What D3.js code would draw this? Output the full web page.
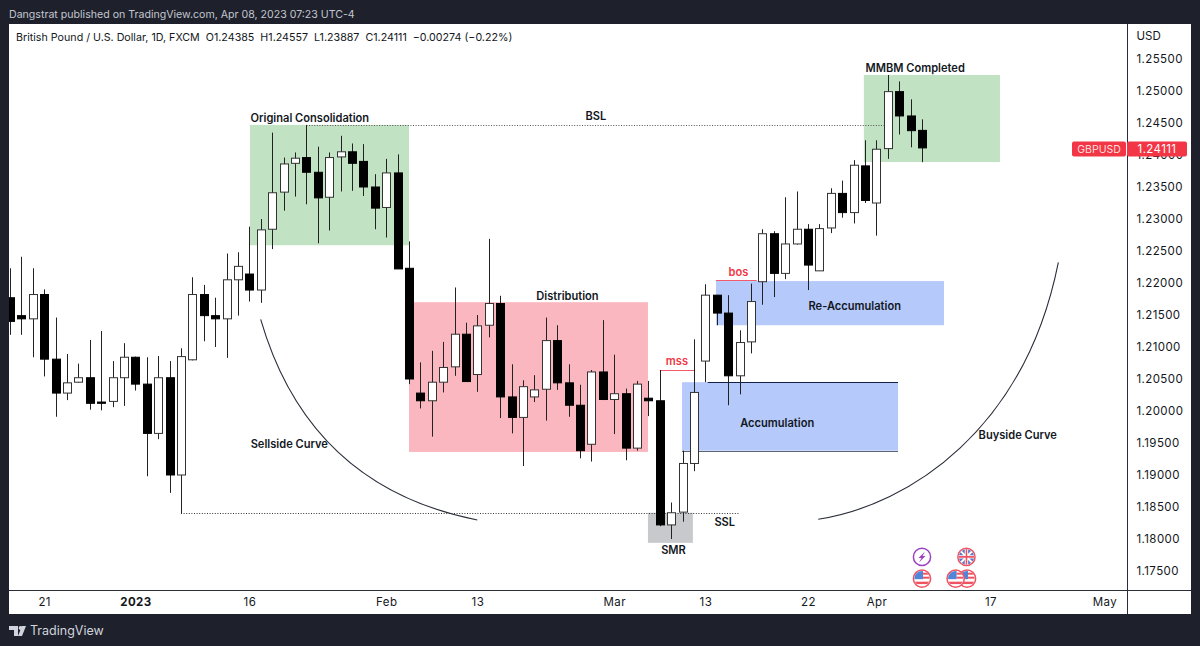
<!DOCTYPE html>
<html>
<head>
<meta charset="utf-8">
<style>
  html, body { margin: 0; padding: 0; background: #1e212c; }
  svg { display: block; }
  text { font-family: Inter, "Noto Sans", sans-serif; white-space: pre; }
</style>
<script src="https://cdn.jsdelivr.net/npm/d3@7"></script>
</head>
<body>
<div id="chart"></div>
<script>
// daily candles, 19 Dec 2022 -> 7 Apr 2023 (weekdays only)
const opens = [1.2177,1.2149,1.2144,1.2182,1.2081,1.2028,1.2045,1.2052,1.2014,1.2015,1.2052,1.2084,1.2042,1.1965,1.2052,1.1900,1.2080,1.2182,1.2149,1.2144,1.2205,1.2214,1.2189,1.2284,1.2342,1.2387,1.2396,1.2373,1.2334,1.2397,1.2405,1.2390,1.2350,1.2318,1.2372,1.2223,1.2028,1.2016,1.2045,1.2069,1.2120,1.2057,1.2134,1.2168,1.2022,1.1990,1.2022,1.2034,1.2110,1.2044,1.2009,1.1948,1.2061,1.2018,1.2027,1.1942,1.2020,1.2016,1.1822,1.1842,1.1918,1.2078,1.2181,1.2153,1.2055,1.2108,1.2202,1.2277,1.2215,1.2261,1.2284,1.2219,1.2286,1.2340,1.2310,1.2383,1.2325,1.2410,1.2499,1.2461,1.24385];
const highs = [1.2223,1.2241,1.2223,1.2190,1.2146,1.2089,1.2074,1.2111,1.2125,1.2078,1.2106,1.2085,1.2084,1.2086,1.2078,1.2098,1.2209,1.2197,1.2177,1.2246,1.2248,1.2288,1.2300,1.2435,1.2396,1.2404,1.2447,1.2413,1.2404,1.2430,1.2418,1.2417,1.2370,1.2394,1.2401,1.2265,1.2076,1.2094,1.2108,1.2193,1.2138,1.2150,1.2269,1.2180,1.2073,1.2048,1.2056,1.2146,1.2134,1.2073,1.2041,1.2064,1.2142,1.2088,1.2035,1.2047,1.2047,1.2064,1.1857,1.1938,1.2112,1.2198,1.2181,1.2181,1.2126,1.2199,1.2284,1.2281,1.2334,1.2343,1.2292,1.2292,1.2348,1.2360,1.2392,1.2423,1.2423,1.2525,1.2515,1.2487,1.24557];
const lows = [1.2119,1.2119,1.2084,1.2054,1.1991,1.2017,1.2044,1.2002,1.2001,1.2006,1.2008,1.2032,1.1898,1.1956,1.1872,1.1840,1.2079,1.2109,1.2100,1.2083,1.2149,1.2171,1.2169,1.2253,1.2313,1.2335,1.2323,1.2262,1.2282,1.2343,1.2344,1.2336,1.2284,1.2271,1.2222,1.2042,1.2004,1.1960,1.2029,1.2055,1.2046,1.2030,1.2115,1.1989,1.1965,1.1914,1.2014,1.1985,1.2033,1.1991,1.1926,1.1921,1.2017,1.1964,1.1923,1.1938,1.1992,1.1820,1.1800,1.1827,1.1906,1.2045,1.2134,1.2009,1.2026,1.2090,1.2166,1.2178,1.2206,1.2260,1.2189,1.2219,1.2278,1.2302,1.2293,1.2325,1.2274,1.2394,1.2432,1.2412,1.23887];
const closes = [1.2140,1.2144,1.2182,1.2081,1.2028,1.2044,1.2052,1.2012,1.2012,1.2052,1.2084,1.2042,1.1965,1.2052,1.1900,1.2085,1.2182,1.2149,1.2144,1.2205,1.2226,1.2189,1.2283,1.2341,1.2386,1.2395,1.2373,1.2333,1.2396,1.2405,1.2387,1.2350,1.2317,1.2372,1.2222,1.2050,1.2016,1.2045,1.2068,1.2120,1.2046,1.2133,1.2168,1.2022,1.1990,1.2038,1.2033,1.2110,1.2044,1.2009,1.1938,1.2061,1.2018,1.2027,1.1942,1.2042,1.2016,1.1822,1.1841,1.1918,1.2029,1.2181,1.2153,1.2055,1.2107,1.2171,1.2277,1.2215,1.2261,1.2284,1.2228,1.2285,1.2340,1.2310,1.2384,1.2329,1.2409,1.2499,1.2461,1.2438,1.24111];

const priceTicks = [1.175,1.18,1.185,1.19,1.195,1.2,1.205,1.21,1.215,1.22,1.225,1.23,1.235,1.24,1.245,1.25,1.255];
const timeTickIdx = [3,11,21,33,41,53,61,70,76,86,96];
const timeTickLabels = ['21','2023','16','Feb','13','Mar','13','22','Apr','17','May'];

// [idx0, idx1, priceTop, priceBottom, colour]
const zones = [
  [21.05, 35, 1.2447, 1.2259, '#c1e2c3'],
  [35, 55.96, 1.2170, 1.1936, '#fbb7bf'],
  [74.9, 86.84, 1.2525, 1.2389, '#c1e2c3'],
  [58.95, 77.9, 1.2045, 1.1938, '#b5c9fb'],
  [61.93, 81.93, 1.2203, 1.2134, '#b5c9fb'],
  [55.96, 59.9, 1.1841, 1.1794, '#c8c9cd']
];

// [idx0, idx1, price, colour, dash]
const levels = [
  [26, 77, 1.2447, '#555', '1 1.6'],
  [15, 63.9, 1.1840, '#333', '1 1.6'],
  [61.2, 77.9, 1.2045, '#14204a', null],
  [58.95, 77.9, 1.1938, '#5a6475', null],
  [57, 60, 1.2064, '#f2596b', null],
  [61.93, 65.5, 1.2205, '#f2596b', null]
];

// bezier anchors: start, control, control, end
const sellCurveIdx = [21.99,24.82,31.14,40.99];
const sellCurvePrice = [1.21433,1.19697,1.18648,1.18297];
const buyCurveIdx = [70.9,78.95,89.04,91.96];
const buyCurvePrice = [1.18308,1.18531,1.19719,1.22323];

// [text, idx, price, colour]
const labels = [
  ['Original Consolidation', 26.3, 1.2458, '#131722'],
  ['BSL', 51.4, 1.2461, '#131722'],
  ['SSL', 62.7, 1.1827, '#131722'],
  ['Distribution', 48.9, 1.2180, '#131722'],
  ['MMBM Completed', 79.4, 1.2536, '#131722'],
  ['mss', 58.5, 1.2078, '#f23645'],
  ['bos', 63.9, 1.2217, '#f23645'],
  ['Re-Accumulation', 74.1, 1.2164, '#131722'],
  ['Accumulation', 67.3, 1.1981, '#131722'],
  ['Sellside Curve', 24.5, 1.1948, '#131722'],
  ['Buyside Curve', 88.4, 1.1963, '#131722'],
  ['SMR', 58.2, 1.1783, '#131722']
];

const eventIdx = [80, 83.9, 80, 83.95, 82.95];
const eventPrice = [1.1772, 1.1772, 1.1738, 1.1738, 1.1738];
const eventKinds = ['bolt', 'uk', 'us', 'us', 'us'];

const lastPrice = closes[closes.length - 1];

const svg = d3.select('#chart').append('svg').attr('width', 1200).attr('height', 646);

const x = d3.scaleLinear().domain([0, 96]).range([10, 1104.4]);
const y = d3.scaleLinear().domain([1.175, 1.255]).range([571, 59]);

// page frame
svg.append('rect').attr('width', 1200).attr('height', 646).attr('fill', '#1e212c');
svg.append('rect').attr('x', 9).attr('y', 24).attr('width', 1182).attr('height', 590).attr('fill', '#fff');

svg.append('text').attr('x', 9).attr('y', 18).attr('fill', '#c3c6ce').attr('font-size', 10.6).attr('font-family', 'Roboto, sans-serif')
  .text('Dangstrat published on TradingView.com, Apr 08, 2023 07:23 UTC-4');

svg.append('clipPath').attr('id', 'plotClip').append('rect')
  .attr('x', 9).attr('y', 24).attr('width', 1118.5).attr('height', 566);

const plot = svg.append('g').attr('clip-path', 'url(#plotClip)');

plot.selectAll('rect.zone').data(zones).join('rect')
  .attr('class', 'zone')
  .attr('x', d => x(d[0]))
  .attr('y', d => y(d[2]))
  .attr('width', d => x(d[1]) - x(d[0]))
  .attr('height', d => y(d[3]) - y(d[2]))
  .attr('fill', d => d[4]);

plot.selectAll('line.level').data(levels).join('line')
  .attr('class', 'level')
  .attr('x1', d => x(d[0])).attr('x2', d => x(d[1]))
  .attr('y1', d => Math.round(y(d[2])) + 0.5).attr('y2', d => Math.round(y(d[2])) + 0.5)
  .attr('stroke', d => d[3])
  .attr('stroke-width', 1)
  .attr('stroke-dasharray', d => d[4]);

[[sellCurveIdx, sellCurvePrice], [buyCurveIdx, buyCurvePrice]].forEach(([xs, ys]) => {
  const p = d3.path();
  p.moveTo(x(xs[0]), y(ys[0]));
  p.bezierCurveTo(x(xs[1]), y(ys[1]), x(xs[2]), y(ys[2]), x(xs[3]), y(ys[3]));
  plot.append('path')
    .attr('d', p.toString())
    .attr('fill', 'none')
    .attr('stroke', '#2a2e39')
    .attr('stroke-width', 1.1);
});

// candles
const candles = plot.selectAll('g.candle').data(opens).join('g').attr('class', 'candle');
candles.append('line')
  .attr('x1', (d, i) => Math.round(x(i)) + 0.5).attr('x2', (d, i) => Math.round(x(i)) + 0.5)
  .attr('y1', (d, i) => y(highs[i])).attr('y2', (d, i) => y(lows[i]))
  .attr('stroke', '#222');
candles.append('rect')
  .attr('x', (d, i) => Math.round(x(i)) - 3.5)
  .attr('width', 8)
  .attr('y', (d, i) => y(Math.max(d, closes[i])))
  .attr('height', (d, i) => Math.max(1, Math.abs(y(d) - y(closes[i]))))
  .attr('fill', (d, i) => closes[i] > d ? '#fff' : '#000')
  .attr('stroke', (d, i) => closes[i] > d ? '#333' : '#000')
  .attr('stroke-width', 1);

plot.selectAll('text.note').data(labels).join('text')
  .attr('class', 'note')
  .attr('x', d => x(d[1]))
  .attr('y', d => y(d[2]))
  .attr('dy', '0.35em')
  .attr('text-anchor', 'middle')
  .attr('font-size', 11.1)
  .attr('font-weight', 600)
  .attr('fill', d => d[3])
  .text(d => d[0]);

// economic event markers
svg.append('clipPath').attr('id', 'iconClip').append('circle').attr('r', 7.6);
const events = plot.selectAll('g.event').data(eventKinds).join('g')
  .attr('class', 'event')
  .attr('transform', (d, i) => `translate(${x(eventIdx[i])},${y(eventPrice[i])})`);
events.append('circle').attr('r', 8.6)
  .attr('fill', '#fff')
  .attr('stroke', d => d === 'bolt' ? '#9c3fc0' : '#ef5361')
  .attr('stroke-width', 1.5);
events.filter(d => d === 'bolt').append('path')
  .attr('d', 'M3,-5.5 L-3.5,1 L-0.5,1 L-3,5.5 L3.5,-1 L0.5,-1 Z')
  .attr('fill', '#9c3fc0');
const usFlag = events.filter(d => d === 'us').append('g').attr('clip-path', 'url(#iconClip)');
usFlag.append('rect').attr('x', -8).attr('y', -8).attr('width', 9).attr('height', 8.5).attr('fill', '#4f86d9');
usFlag.append('rect').attr('x', 1).attr('y', -6).attr('width', 8).attr('height', 2).attr('fill', '#ef5361');
usFlag.append('rect').attr('x', 1).attr('y', -2).attr('width', 8).attr('height', 2).attr('fill', '#ef5361');
usFlag.append('rect').attr('x', -8).attr('y', 3).attr('width', 16).attr('height', 2.4).attr('fill', '#ef5361');
const ukFlag = events.filter(d => d === 'uk').append('g').attr('clip-path', 'url(#iconClip)');
ukFlag.append('rect').attr('x', -8).attr('y', -8).attr('width', 16).attr('height', 16).attr('fill', '#5a78c8');
ukFlag.append('path').attr('d', 'M-8,-8L8,8M8,-8L-8,8').attr('stroke', '#fff').attr('stroke-width', 2);
ukFlag.append('path').attr('d', 'M0,-8V8M-8,0H8').attr('stroke', '#fff').attr('stroke-width', 3.4);
ukFlag.append('path').attr('d', 'M0,-8V8M-8,0H8').attr('stroke', '#ef5361').attr('stroke-width', 1.6);

// price axis
svg.append('line').attr('x1', 1127.5).attr('x2', 1127.5).attr('y1', 24).attr('y2', 614).attr('stroke', '#2a2e39');
const priceAxis = svg.append('g').attr('transform', 'translate(1127.5,0)')
  .call(d3.axisRight(y).tickValues(priceTicks).tickSize(0).tickPadding(9).tickFormat(d3.format('.5f')));
priceAxis.select('.domain').remove();
priceAxis.selectAll('text').attr('font-size', 11.5).attr('font-family', 'Inter, sans-serif').attr('fill', '#131722').attr('letter-spacing', 0.4);
svg.append('text').attr('x', 1136.5).attr('y', 40).attr('font-size', 11.5).attr('fill', '#131722').text('USD');

// time axis
svg.append('line').attr('x1', 9).attr('x2', 1191).attr('y1', 590.5).attr('y2', 590.5).attr('stroke', '#2a2e39');
const timeAxis = svg.append('g').attr('transform', 'translate(0,590.5)')
  .call(d3.axisBottom(x).tickValues(timeTickIdx).tickSize(0).tickPadding(7).tickFormat((d, i) => timeTickLabels[i]));
timeAxis.select('.domain').remove();
timeAxis.selectAll('text').attr('font-size', 11.5).attr('font-family', 'Inter, sans-serif').attr('fill', '#131722')
  .attr('letter-spacing', 0.4)
  .attr('font-weight', (d, i) => timeTickLabels[i] === '2023' ? 700 : 400);

// last price tag
const tagY = y(lastPrice) - 6.5;
svg.append('rect').attr('x', 1072).attr('y', tagY).attr('width', 54).attr('height', 15).attr('rx', 2).attr('fill', '#f23645');
svg.append('rect').attr('x', 1127).attr('y', tagY).attr('width', 60).attr('height', 15).attr('rx', 2).attr('fill', '#f23645');
svg.append('text').attr('x', 1099).attr('y', tagY + 11.3).attr('text-anchor', 'middle').attr('font-size', 10.5).attr('fill', '#fdd').text('GBPUSD');
svg.append('text').attr('x', 1157).attr('y', tagY + 11.5).attr('text-anchor', 'middle').attr('font-size', 11.5).attr('fill', '#fff').attr('letter-spacing', 0.4).text(d3.format('.5f')(lastPrice));

svg.append('text').attr('x', 16).attr('y', 41).attr('font-size', 10.7).attr('font-family', 'Roboto, sans-serif').attr('fill', '#131722')
  .text('British Pound / U.S. Dollar, 1D, FXCM  O1.24385  H1.24557  L1.23887  C1.24111  \u22120.00274 (\u22120.22%)');

// footer logo
const logo = svg.append('g').attr('fill', '#d1d4dc');
logo.append('path').attr('d', 'M9,626H18V636H14V630H9Z');
logo.append('circle').attr('cx', 20.6).attr('cy', 628).attr('r', 2);
logo.append('path').attr('d', 'M22,626H26L22,636H18Z');
svg.append('text').attr('x', 30).attr('y', 635).attr('font-size', 12.5).attr('font-family', 'Roboto, sans-serif').attr('fill', '#d1d4dc').text('TradingView');
</script>
</body>
</html>
